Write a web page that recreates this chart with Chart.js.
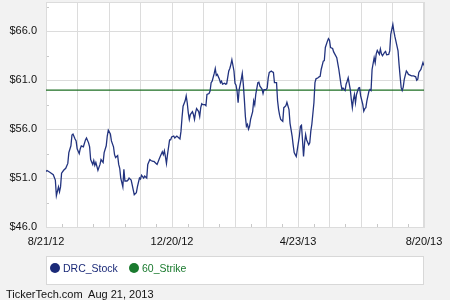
<!DOCTYPE html>
<html lang="en">
<head>
  <meta charset="UTF-8" />
  <title>DRC Stock</title>
  <script src="https://cdn.jsdelivr.net/npm/chart.js"></script>
  <style>
    body { margin: 0; background: #f2f2f2; font-family: "Liberation Sans", Arial, sans-serif; }
    #wrap { position: relative; width: 450px; height: 300px; }
    canvas { display: block; }
    #legend {
      position: absolute; left: 46px; top: 256px; width: 376px; height: 27px;
      background: #fff; border: 1px solid #d8d8d8; font-size: 10.5px;
    }
    .item { position: absolute; top: 5px; line-height: 12px; white-space: nowrap; }
    .dot { display: inline-block; width: 10px; height: 10px; border-radius: 50%; vertical-align: -1px; margin-right: 3px; }
    #footer { position: absolute; left: 6px; top: 288px; font-size: 11px; color: #111; white-space: pre; }
  </style>
</head>
<body>
  <div id="wrap">
    <canvas id="grafico" width="450" height="300"></canvas>
    <div id="legend">
      <span class="item" style="left:3px;color:#1b2a78"><span class="dot" style="background:#1b2a78"></span>DRC_Stock</span>
      <span class="item" style="left:82px;color:#1a7a2e"><span class="dot" style="background:#1a7a2e"></span>60_Strike</span>
    </div>
    <div id="footer">TickerTech.com  Aug 21, 2013</div>
  </div>

  <script>
    // days since 8/21/12 and closing price
    const stockDays = [
      0, 1, 4, 7, 9, 10, 12, 13, 14, 15, 17, 19, 21, 22, 24, 25, 26, 28, 29, 30,
      32, 33, 34, 36, 38, 39, 41, 42, 43, 45, 46, 47, 48, 49, 50, 52, 53, 55, 56, 58,
      59, 60, 62, 63, 65, 66, 67, 69, 70, 71, 72, 74, 75, 76, 78, 79, 80, 82, 83, 84,
      85, 87, 88, 90, 91, 92, 94, 95, 97, 98, 100, 101, 103, 104, 106, 107, 109, 110, 112, 113,
      114, 115, 116, 117, 119, 120, 121, 123, 124, 125, 126, 128, 129, 130, 131, 132, 134, 135, 136, 137,
      138, 139, 141, 142, 143, 144, 145, 147, 148, 149, 150, 151, 153, 154, 155, 157, 158, 159, 160, 162,
      163, 164, 165, 167, 168, 169, 170, 172, 173, 174, 176, 177, 178, 179, 181, 182, 183, 184, 185, 186,
      188, 189, 190, 191, 192, 193, 194, 195, 196, 197, 199, 200, 201, 202, 204, 205, 206, 208, 209, 210,
      212, 213, 214, 215, 217, 218, 219, 220, 222, 223, 224, 225, 226, 228, 229, 230, 231, 232, 234, 235,
      236, 237, 238, 239, 240, 241, 242, 244, 245, 246, 247, 248, 249, 250, 251, 253, 254, 255, 256, 258,
      259, 260, 262, 263, 264, 265, 267, 268, 269, 271, 272, 273, 274, 276, 277, 280, 281, 282, 284, 285,
      286, 288, 289, 290, 291, 293, 294, 295, 296, 297, 298, 299, 301, 302, 303, 305, 306, 307, 308, 309,
      311, 312, 313, 314, 316, 317, 318, 319, 321, 322, 323, 324, 326, 327, 328, 330, 331, 332, 333, 334,
      335, 336, 338, 339, 340, 341, 342, 343, 344, 345, 347, 348, 349, 350, 352, 353, 354, 356, 357, 358,
      359, 360, 361, 363, 364
    ];
    const stockPrices = [
      51.68, 51.78, 51.57, 51.34, 50.8, 49.2, 50.1, 49.6, 50.1, 51.5, 51.8, 52.0, 52.5, 53.6, 54.3, 55.4, 55.5, 55.0, 54.8, 54.0,
      53.5, 54.0, 54.3, 54.2, 54.9, 55.1, 54.6, 54.2, 52.9, 52.4, 52.8, 52.3, 52.6, 52.2, 51.8, 52.4, 52.9, 52.6, 53.6, 54.3,
      55.3, 55.9, 55.5, 54.8, 54.2, 53.4, 53.1, 53.3, 52.4, 52.0, 51.0, 50.1, 51.9, 50.7, 50.7, 50.8, 51.0, 50.8, 50.3, 49.8,
      49.3, 49.5, 50.1, 51.0, 50.9, 51.3, 51.0, 51.2, 51.0, 52.4, 52.9, 52.8, 52.7, 52.7, 52.5, 52.4, 52.95, 53.2, 53.7, 53.4,
      53.8, 53.2, 52.5, 53.4, 54.9, 54.9, 55.2, 55.3, 55.1, 55.2, 55.3, 55.1, 55.0, 55.8, 57.2, 58.35, 58.9, 59.4, 58.7, 57.7,
      57.0, 57.5, 57.8, 57.5, 57.0, 57.7, 58.1, 57.8, 57.3, 58.2, 58.6, 58.5, 58.5, 58.4, 59.55, 59.65, 59.9, 60.75, 60.9, 61.7,
      62.2, 61.5, 61.6, 61.1, 60.75, 60.9, 60.6, 60.7, 60.6, 60.65, 61.95, 62.2, 62.6, 63.1, 61.95, 60.7, 60.5, 59.9, 58.7, 60.05,
      61.1, 61.7, 60.6, 59.05, 57.3, 56.3, 56.5, 56.0, 56.3, 57.0, 57.8, 58.9, 58.5, 59.55, 60.75, 60.8, 60.4, 60.1, 59.65, 60.05,
      60.05, 60.2, 61.25, 61.8, 61.95, 61.85, 61.8, 60.75, 60.75, 58.9, 58.0, 57.4, 57.0, 56.8, 58.2, 58.3, 58.4, 58.75, 58.0, 56.6,
      55.95, 55.3, 54.4, 53.6, 53.4, 53.2, 53.9, 55.3, 56.3, 56.4, 54.9, 53.2, 54.6, 55.45, 54.9, 54.4, 54.6, 55.8, 56.5, 58.7,
      60.75, 61.15, 61.25, 61.35, 61.4, 62.1, 62.95, 63.0, 64.35, 65.0, 65.25, 65.1, 64.35, 64.25, 63.9, 63.3, 62.7, 62.1, 60.6, 60.05,
      60.2, 59.95, 60.6, 60.9, 61.25, 60.05, 59.05, 58.2, 59.05, 59.55, 58.7, 59.55, 60.2, 60.25, 59.4, 58.55, 57.85, 58.1, 58.2, 58.9,
      59.9, 60.05, 59.95, 62.1, 63.3, 62.8, 63.7, 64.05, 63.65, 64.2, 63.7, 63.5, 63.85, 63.95, 63.6, 63.65, 64.0, 65.7, 66.2, 66.7,
      66.0, 65.45, 64.5, 64.0, 62.6, 61.4, 60.25, 59.95, 60.3, 61.1, 61.95, 61.8, 61.6, 61.55, 61.45, 61.45, 61.45, 61.35, 61.0, 61.1,
      61.8, 61.95, 62.1, 62.8, 62.5
    ];
    const strikePrice = 60;
    const firstDay = 0;
    const lastDay = 364;
    const xTickLabels = ["8/21/12", "12/20/12", "4/23/13", "8/20/13"];
    const yTickValues = [46, 51, 56, 61, 66];
    const yMinorValues = [48.5, 53.5, 58.5, 63.5, 68.5];

    const gris = "#dcdcdc";
    const fuente = { family: "'Liberation Sans', Arial, sans-serif", size: 11 };

    const fondoYMarcas = {
      id: "fondoYMarcas",
      beforeDraw(chart) {
        const a = chart.chartArea, c = chart.ctx;
        c.save();
        c.fillStyle = "#fff";
        c.fillRect(a.left, a.top, a.right - a.left, a.bottom - a.top);
        c.restore();
      },
      beforeDatasetsDraw(chart) {
        const a = chart.chartArea, c = chart.ctx;
        const x = chart.scales.x, y = chart.scales.y;
        c.save();
        c.strokeStyle = "#c8c8c8";
        c.lineWidth = 1;
        c.beginPath();
        yMinorValues.forEach(v => {
          const py = Math.round(y.getPixelForValue(v)) + 0.5;
          c.moveTo(a.left, py); c.lineTo(a.left + 3, py);
        });
        const paso = (lastDay - firstDay) / 12;
        for (let k = 0; k < 12; k++) {
          const px = Math.round(x.getPixelForValue(firstDay + paso * (k + 0.5))) + 0.5;
          c.moveTo(px, a.bottom); c.lineTo(px, a.bottom - 3);
        }
        c.stroke();
        c.strokeStyle = gris;
        c.strokeRect(a.left + 0.5, a.top + 0.5, a.right - a.left - 1, a.bottom - a.top);
        c.restore();
      }
    };

    new Chart(document.getElementById("grafico"), {
      type: "line",
      data: {
        datasets: [
          {
            label: "DRC_Stock",
            data: stockDays.map((d, i) => ({ x: d, y: stockPrices[i] })),
            borderColor: "#22337f",
            borderWidth: 1.3,
            pointRadius: 0,
            tension: 0
          },
          {
            label: "60_Strike",
            data: [{ x: firstDay, y: strikePrice }, { x: lastDay, y: strikePrice }],
            borderColor: "#1d6e22",
            borderWidth: 1.2,
            pointRadius: 0
          }
        ]
      },
      options: {
        responsive: false,
        animation: false,
        devicePixelRatio: 1,
        layout: { padding: { left: 0, right: 26, top: 2, bottom: 0 } },
        plugins: { legend: { display: false }, tooltip: { enabled: false } },
        scales: {
          x: {
            type: "linear",
            min: firstDay,
            max: lastDay,
            afterBuildTicks(scale) {
              const paso = (lastDay - firstDay) / 12;
              scale.ticks = Array.from({ length: 13 }, (_, k) => ({ value: firstDay + paso * k }));
            },
            afterFit(scale) {
              scale.height = 73;
              scale.paddingLeft = 0; scale.paddingRight = 0;
            },
            ticks: {
              autoSkip: false,
              maxRotation: 0,
              padding: 8,
              color: "#111",
              font: fuente,
              callback: (v, i) => (i % 4 === 0 ? xTickLabels[i / 4] : "")
            },
            grid: { color: gris, drawTicks: false },
            border: { color: gris }
          },
          y: {
            min: 46,
            max: 69,
            afterBuildTicks(scale) {
              scale.ticks = yTickValues.map(v => ({ value: v }));
            },
            afterFit(scale) {
              scale.width = 46;
              scale.paddingTop = 0; scale.paddingBottom = 0;
            },
            ticks: {
              padding: 9,
              color: "#111",
              font: fuente,
              callback: v => "$" + Number(v).toFixed(1)
            },
            grid: { color: gris, drawTicks: false },
            border: { color: gris }
          }
        }
      },
      plugins: [fondoYMarcas]
    });
  </script>
</body>
</html>
